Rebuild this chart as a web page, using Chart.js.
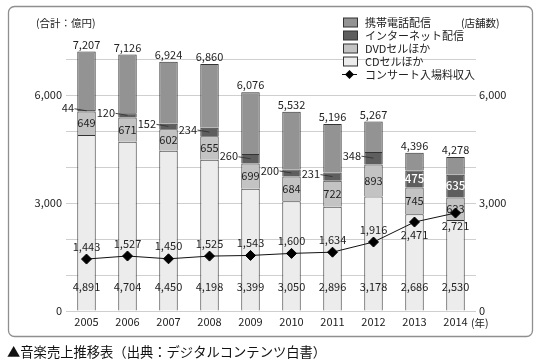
<!DOCTYPE html>
<html>
<head>
<meta charset="utf-8">
<script src="https://cdn.jsdelivr.net/npm/chart.js@4"></script>
<style>
html,body{margin:0;padding:0;background:#fff;}
#wrap{width:542px;height:361px;position:relative;}
</style>
</head>
<body>
<div id="wrap"><canvas id="c" width="542" height="361"></canvas></div>
<script>
const years = ['2005','2006','2007','2008','2009','2010','2011','2012','2013','2014'];
const cdSales = [4891,4704,4450,4198,3399,3050,2896,3178,2686,2530];
const dvdSales = [649,671,602,655,699,684,722,893,745,623];
const netSales = [44,120,152,234,260,200,231,348,475,635];
const mobileSales = [1623,1631,1720,1773,1718,1598,1347,848,490,490];
const totalSales = [7207,7126,6924,6860,6076,5532,5196,5267,4396,4278];
const concertRevenue = [1443,1527,1450,1525,1543,1600,1634,1916,2471,2721];
const shownTicks = [0,3000,6000];

const FONT = "'Noto Sans CJK JP','Noto Sans',sans-serif";
const TXT = '#222';
const fmt = v => v.toLocaleString('en-US');

const labelsPlugin = {
  id: 'customLabels',
  beforeDraw(chart) {
    const ctx = chart.ctx;
    ctx.save();
    ctx.fillStyle = '#fff';
    ctx.fillRect(0, 0, chart.width, chart.height);
    ctx.strokeStyle = '#8f8f8f';
    ctx.lineWidth = 1.3;
    ctx.beginPath();
    ctx.roundRect(8.5, 6.5, 524, 330, 6);
    ctx.stroke();
    ctx.restore();
  },
  beforeDatasetDraw(chart, args) {
    if (args.index !== 4) return;
    const ctx = chart.ctx;
    const mCD = chart.getDatasetMeta(0).data;
    const mDVD = chart.getDatasetMeta(1).data;
    const mNet = chart.getDatasetMeta(2).data;
    const mMob = chart.getDatasetMeta(3).data;
    ctx.save();
    ctx.font = '11px ' + FONT;
    ctx.textAlign = 'center';
    ctx.textBaseline = 'middle';
    for (let i = 0; i < years.length; i++) {
      const x = mCD[i].x;
      ctx.fillStyle = TXT;
      ctx.fillText(fmt(totalSales[i]), x, mMob[i].y - 7);
      ctx.fillText(fmt(cdSales[i]), x, mCD[i].base - 24);
      ctx.fillText(fmt(dvdSales[i]), x, (mDVD[i].y + mDVD[i].base) / 2);
      const nc = (mNet[i].y + mNet[i].base) / 2;
      if (i < 8) {
        const ly = nc - 2.5;
        ctx.textAlign = 'right';
        ctx.fillText(fmt(netSales[i]), x - 12.5, ly);
        ctx.strokeStyle = '#333';
        ctx.lineWidth = 0.9;
        ctx.beginPath();
        ctx.moveTo(x - 12, ly + 0.5);
        ctx.lineTo(x, nc);
        ctx.stroke();
        ctx.textAlign = 'center';
      } else {
        ctx.fillStyle = '#fff';
        ctx.font = '500 11.5px ' + FONT;
        ctx.fillText(fmt(netSales[i]), x, nc);
        ctx.font = '11px ' + FONT;
      }
    }
    ctx.restore();
  },
  afterDatasetsDraw(chart) {
    const ctx = chart.ctx;
    const mLine = chart.getDatasetMeta(4).data;
    ctx.save();
    ctx.font = '11px ' + FONT;
    ctx.textAlign = 'center';
    ctx.textBaseline = 'middle';
    ctx.fillStyle = TXT;
    for (let i = 0; i < years.length; i++) {
      const p = mLine[i];
      const y = i >= 8 ? p.y + 13 : p.y - 12.5;
      ctx.fillText(fmt(concertRevenue[i]), p.x, y);
    }
    ctx.restore();
  },
  afterDraw(chart) {
    const ctx = chart.ctx;
    ctx.save();
    ctx.fillStyle = TXT;
    ctx.textBaseline = 'middle';
    ctx.textAlign = 'left';
    ctx.font = '10.5px ' + FONT;
    ctx.fillText('(合計：億円)', 36, 23);
    ctx.fillText('(店舗数)', 461, 23);
    ctx.fillText('(年)', 471, 323);
    const order = [3, 2, 1, 0, 4];
    const rowY = [22.5, 35.5, 48.5, 61.5, 74.5];
    ctx.font = '11px ' + FONT;
    order.forEach((di, k) => {
      const ds = chart.data.datasets[di];
      const y = rowY[k];
      if (ds.type === 'line') {
        ctx.strokeStyle = '#111';
        ctx.lineWidth = 1;
        ctx.beginPath();
        ctx.moveTo(342, y);
        ctx.lineTo(357, y);
        ctx.stroke();
        ctx.fillStyle = '#000';
        ctx.beginPath();
        ctx.moveTo(349.5, y - 4.5);
        ctx.lineTo(354, y);
        ctx.lineTo(349.5, y + 4.5);
        ctx.lineTo(345, y);
        ctx.closePath();
        ctx.fill();
      } else {
        ctx.fillStyle = ds.backgroundColor;
        ctx.fillRect(343.5, y - 4.5, 14, 9);
        ctx.strokeStyle = '#333';
        ctx.lineWidth = 1;
        ctx.strokeRect(343.5, y - 4.5, 14, 9);
      }
      ctx.fillStyle = TXT;
      ctx.fillText(ds.label, 365, y);
    });
    ctx.font = '13.3px ' + FONT;
    ctx.fillStyle = '#111';
    ctx.fillText('▲音楽売上推移表（出典：デジタルコンテンツ白書）', 7, 352);
    ctx.restore();
  }
};

const barCommon = {
  stack: 's',
  yAxisID: 'y',
  order: 1,
  borderColor: '#333',
  borderWidth: 1,
  barPercentage: 0.45,
  categoryPercentage: 1,
  clip: false
};

new Chart(document.getElementById('c'), {
  type: 'bar',
  data: {
    labels: years,
    datasets: [
      Object.assign({ label: 'CDセルほか', data: cdSales, backgroundColor: '#ececec' }, barCommon),
      Object.assign({ label: 'DVDセルほか', data: dvdSales, backgroundColor: '#c3c3c3' }, barCommon),
      Object.assign({ label: 'インターネット配信', data: netSales, backgroundColor: '#5e5e5e' }, barCommon),
      Object.assign({ label: '携帯電話配信', data: mobileSales, backgroundColor: '#939393' }, barCommon),
      {
        type: 'line',
        label: 'コンサート入場料収入',
        data: concertRevenue,
        yAxisID: 'y',
        order: 0,
        borderColor: '#111',
        borderWidth: 1,
        backgroundColor: '#000',
        pointStyle: 'rectRot',
        pointRadius: 5,
        pointBackgroundColor: '#000',
        pointBorderColor: '#000',
        tension: 0,
        clip: false
      }
    ]
  },
  options: {
    responsive: false,
    animation: false,
    devicePixelRatio: 1,
    layout: { padding: { top: 59, left: 0, right: 0, bottom: 0 } },
    plugins: { legend: { display: false }, tooltip: { enabled: false } },
    scales: {
      x: {
        stacked: true,
        grid: { display: false, drawTicks: false },
        border: { display: false },
        ticks: { color: TXT, font: { family: FONT, size: 11 }, padding: 4, maxRotation: 0 },
        afterFit(s) { s.height = 50; }
      },
      y: {
        stacked: true,
        position: 'left',
        min: 0, max: 7000,
        grid: { color: '#cfcfcf', drawTicks: false, lineWidth: 1 },
        border: { display: false },
        ticks: {
          stepSize: 1000,
          color: TXT,
          font: { family: FONT, size: 11 },
          padding: 4,
          callback: v => shownTicks.includes(v) ? fmt(v) : ''
        },
        afterFit(s) { s.width = 66; }
      },
      y2: {
        position: 'right',
        min: 0, max: 7000,
        grid: { display: false, drawTicks: false },
        border: { display: false },
        ticks: {
          stepSize: 1000,
          color: TXT,
          font: { family: FONT, size: 11 },
          padding: 3,
          callback: v => shownTicks.includes(v) ? fmt(v) : ''
        },
        afterFit(s) { s.width = 66; }
      }
    }
  },
  plugins: [labelsPlugin]
});
</script>
</body>
</html>
